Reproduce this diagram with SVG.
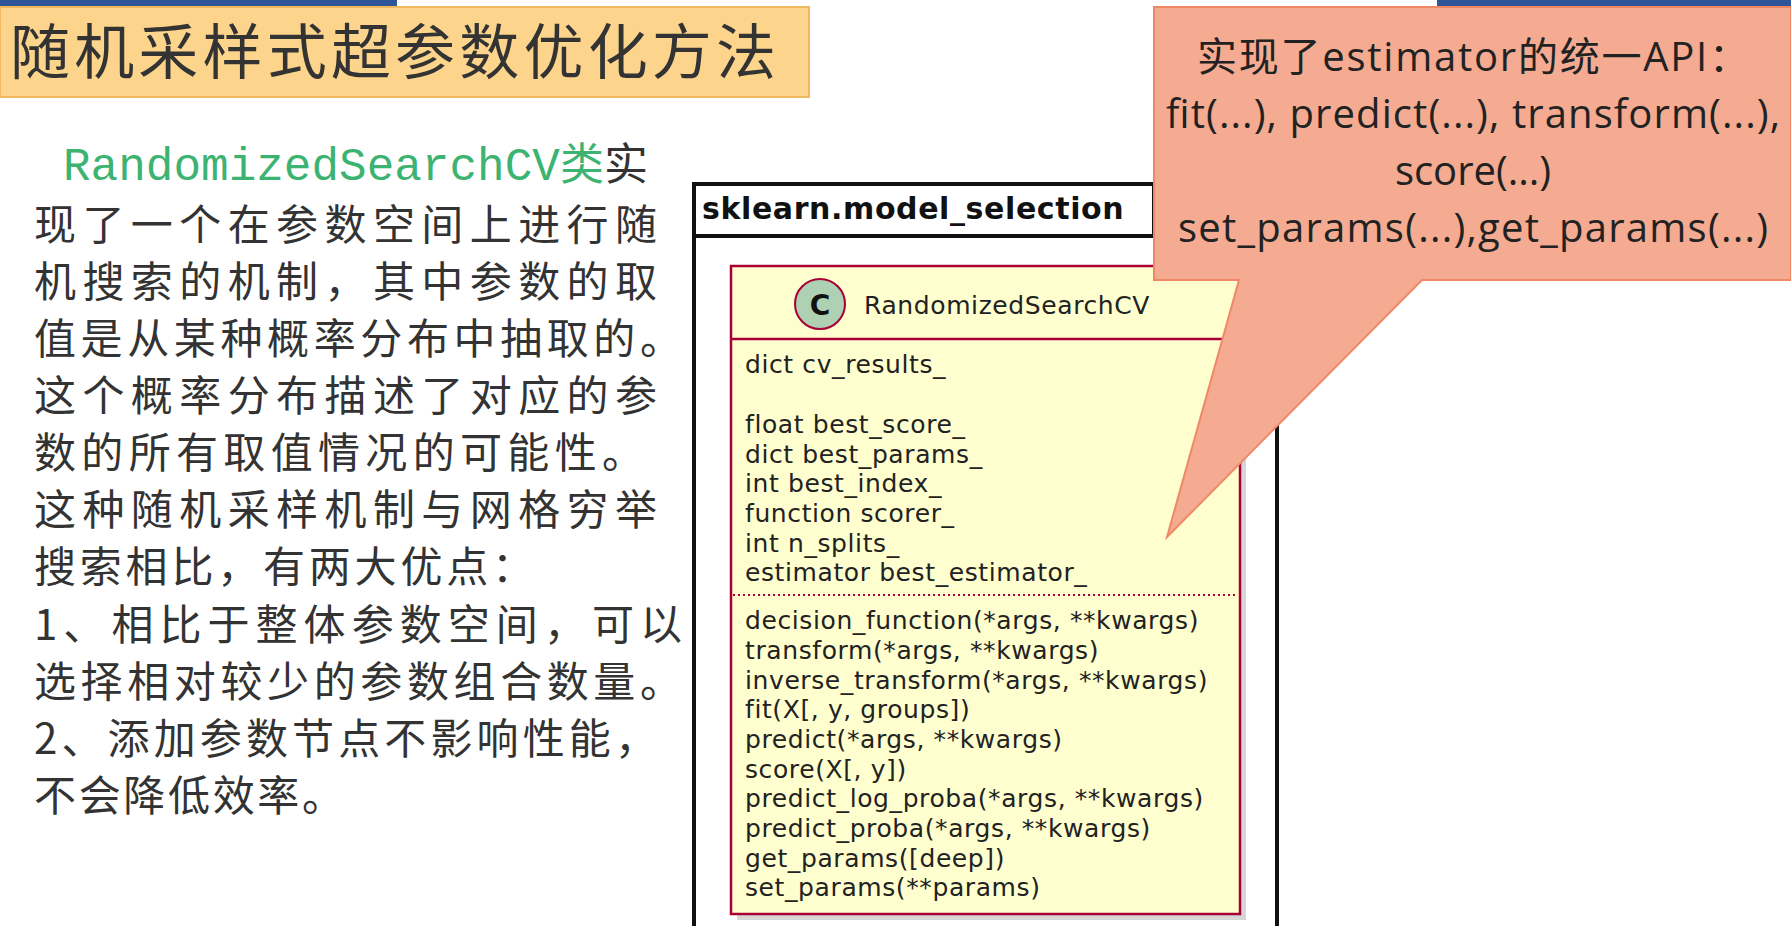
<svg xmlns="http://www.w3.org/2000/svg" width="1791" height="926" viewBox="0 0 1791 926">
<style>
.cjk{font-family:"Noto Sans CJK SC","Noto Sans",sans-serif;fill:#333}
.uml{font-family:"DejaVu Sans",sans-serif;font-size:25px;letter-spacing:0.6px;fill:#222}
.call{font-family:"Open Sans","Noto Sans CJK SC",sans-serif;font-size:40px;fill:#222;text-anchor:middle}
</style>
<rect width="1791" height="926" fill="#fff"/>
<rect x="0" y="0" width="397" height="6" fill="#2e5597"/>
<rect x="1437" y="0" width="354" height="6" fill="#2e5597"/>
<g id="title">
<rect x="0" y="7" width="809" height="90" fill="#fdd48c" stroke="#f2b860" stroke-width="2"/>
<text class="cjk" x="10" y="74" font-size="60" textLength="766" fill="#222">随机采样式超参数优化方法</text>
</g>
<g id="paragraph" class="cjk" font-size="42">
<text x="63" y="180" font-size="44"><tspan font-family="Liberation Mono,monospace" font-size="46" fill="#3cb371">RandomizedSearchCV</tspan><tspan fill="#3cb371">类</tspan>实</text>
<text x="34" y="240" textLength="623">现了一个在参数空间上进行随</text>
<text x="34" y="297" textLength="623">机搜索的机制，其中参数的取</text>
<text x="34" y="354" textLength="648">值是从某种概率分布中抽取的。</text>
<text x="34" y="411" textLength="623">这个概率分布描述了对应的参</text>
<text x="34" y="468" textLength="610">数的所有取值情况的可能性。</text>
<text x="34" y="525" textLength="623">这种随机采样机制与网格穷举</text>
<text x="34" y="582" textLength="500">搜索相比，有两大优点：</text>
<text x="34" y="640" textLength="648">1、相比于整体参数空间，可以</text>
<text x="34" y="697" textLength="648">选择相对较少的参数组合数量。</text>
<text x="34" y="754" textLength="623">2、添加参数节点不影响性能，</text>
<text x="34" y="811" textLength="310">不会降低效率。</text>
</g>
<g id="package">
<rect x="694" y="236" width="583" height="700" fill="#fff" stroke="#111" stroke-width="4"/>
<rect x="694" y="184" width="460" height="52" fill="#fff" stroke="#111" stroke-width="4"/>
<text x="702" y="219" font-family="DejaVu Sans,sans-serif" font-weight="bold" font-size="30" letter-spacing="0.6" fill="#111">sklearn.model_selection</text>
</g>
<g id="class">
<rect x="737" y="272" width="509" height="648" fill="#bbb" opacity="0.6"/>
<rect x="731" y="266" width="509" height="648" fill="#fefece" stroke="#a80036" stroke-width="2.5"/>
<line x1="731" y1="339" x2="1240" y2="339" stroke="#a80036" stroke-width="2.5"/>
<line x1="733" y1="595" x2="1238" y2="595" stroke="#a80036" stroke-width="2" stroke-dasharray="2,3"/>
<circle cx="820" cy="304" r="25" fill="#add1b2" stroke="#a80036" stroke-width="2"/>
<text x="820" y="315" font-family="DejaVu Sans,sans-serif" font-weight="bold" font-size="28" fill="#111" text-anchor="middle">C</text>
<text x="864" y="314" class="uml" font-size="28">RandomizedSearchCV</text>
<g class="uml">
<text x="745" y="373">dict cv_results_</text>
<text x="745" y="433">float best_score_</text>
<text x="745" y="463">dict best_params_</text>
<text x="745" y="492">int best_index_</text>
<text x="745" y="522">function scorer_</text>
<text x="745" y="552">int n_splits_</text>
<text x="745" y="581">estimator best_estimator_</text>
<text x="745" y="629">decision_function(*args, **kwargs)</text>
<text x="745" y="659">transform(*args, **kwargs)</text>
<text x="745" y="689">inverse_transform(*args, **kwargs)</text>
<text x="745" y="718">fit(X[, y, groups])</text>
<text x="745" y="748">predict(*args, **kwargs)</text>
<text x="745" y="778">score(X[, y])</text>
<text x="745" y="807">predict_log_proba(*args, **kwargs)</text>
<text x="745" y="837">predict_proba(*args, **kwargs)</text>
<text x="745" y="867">get_params([deep])</text>
<text x="745" y="896">set_params(**params)</text>
</g>
</g>
<g id="callout">
<path d="M1154,7 H1791 V280 H1422 L1167,537 L1239,280 H1154 Z" fill="#f4ab91" stroke="#f08868" stroke-width="2"/>
<text class="call" x="1473" y="71" textLength="552">实现了estimator的统一API：</text>
<text class="call" x="1473" y="128" textLength="614">fit(...), predict(...), transform(...),</text>
<text class="call" x="1473" y="185">score(...)</text>
<text class="call" x="1473" y="242" textLength="590">set_params(...),get_params(...)</text>
</g>
</svg>
